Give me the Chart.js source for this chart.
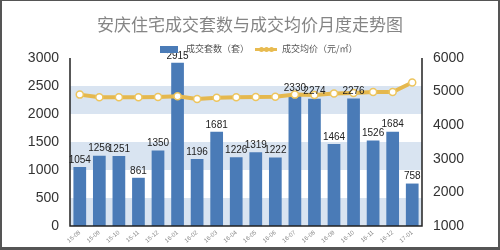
<!DOCTYPE html>
<html><head><meta charset="utf-8">
<script src="https://cdn.jsdelivr.net/npm/chart.js@4.4.1/dist/chart.umd.min.js"></script>
<style>
html,body{margin:0;padding:0;background:#fff;}
#wrap{position:relative;width:500px;height:250px;overflow:hidden;}
#frame{position:absolute;left:0;top:0;width:500px;height:250px;box-sizing:border-box;border:1px solid #555;border-left-width:2px;border-bottom-width:3px;border-right-width:2px;pointer-events:none;}
canvas{position:absolute;left:0;top:0;}
#title{position:absolute;left:0;top:13px;width:500px;text-align:center;font:17px "Noto Sans CJK SC";color:#858585;letter-spacing:0px;line-height:22px;}
#legend{position:absolute;top:43px;left:160px;font:9px "Noto Sans CJK SC";color:#555;line-height:12px;white-space:nowrap;}
.box{display:inline-block;width:18px;height:7px;background:#4a7bb7;vertical-align:middle;margin-right:8px;}
.ln{display:inline-block;position:relative;width:22px;height:3px;background:#e8bb50;vertical-align:middle;margin:0 5px 0 6px;}
.ln i{position:absolute;top:-1px;width:5px;height:5px;border-radius:50%;background:#e8bb50;}
</style></head>
<body><div id="wrap">
<canvas id="c" width="500" height="250"></canvas>
<div id="title">安庆住宅成交套数与成交均价月度走势图</div>
<div id="legend"><span class="box"></span>成交套数（套）<span class="ln"><i style="left:4px"></i><i style="left:9px"></i><i style="left:14px"></i></span>成交均价（元/㎡）</div>
<div id="frame"></div>
</div>
<script>
const categories = ["15-08","15-09","15-10","15-11","15-12","16-01","16-02","16-03","16-04","16-05","16-06","16-07","16-08","16-09","16-10","16-11","16-12","17-01"];
const units = [1054,1256,1251,861,1350,2915,1196,1681,1226,1319,1222,2330,2274,1464,2276,1526,1684,758];
const prices = [4910,4830,4830,4830,4840,4860,4780,4820,4830,4840,4850,4910,4900,4940,4960,4990,4990,5270];
const leftTicks = [0,500,1000,1500,2000,2500,3000];
const rightTicks = [1000,2000,3000,4000,5000,6000];
const bands = [[0,500],[1000,1500],[2000,2500]];

const bandPlugin = {
  id:'bands',
  beforeDatasetsDraw(chart){
    const {ctx, chartArea:a, scales:{y}} = chart;
    ctx.save();
    ctx.fillStyle = '#d9e4f1';
    bands.forEach(([lo,hi])=>{
      const t = y.getPixelForValue(hi), b = y.getPixelForValue(lo);
      ctx.fillRect(a.left, t, a.right-a.left, b-t);
    });
    ctx.restore();
  }
};
const labelPlugin = {
  id:'barLabels',
  afterDatasetsDraw(chart){
    const {ctx} = chart;
    const meta = chart.getDatasetMeta(1);
    ctx.save();
    ctx.font = '10px "Liberation Sans", Arial';
    ctx.fillStyle = '#222';
    ctx.textAlign = 'center';
    ctx.textBaseline = 'bottom';
    meta.data.forEach((el,i)=>{
      ctx.fillText(String(units[i]), el.x, el.y - 2);
    });
    ctx.restore();
  }
};
const axisPlugin = {
  id:'axisLines',
  afterDraw(chart){
    const {ctx, chartArea:a} = chart;
    ctx.save();
    ctx.strokeStyle = '#222';
    ctx.lineWidth = 1.5;
    ctx.beginPath();
    ctx.moveTo(a.left, a.top); ctx.lineTo(a.left, a.bottom); ctx.lineTo(a.right, a.bottom); ctx.lineTo(a.right, a.top);
    ctx.stroke();
    ctx.restore();
  }
};

new Chart(document.getElementById('c'), {
  data:{
    labels: categories,
    datasets:[
      {type:'line', label:'成交均价（元/㎡）', data:prices, yAxisID:'y2', order:0,
       borderColor:'#e5b84e', borderWidth:4, backgroundColor:'#fff',
       pointRadius:3.5, pointBorderWidth:1.5, pointBorderColor:'#edc55e', pointBackgroundColor:'#fff', tension:0},
      {type:'bar', label:'成交套数（套）', data:units, yAxisID:'y', order:1,
       backgroundColor:'#4a7bb7', barPercentage:0.65, categoryPercentage:1.0}
    ]
  },
  options:{
    responsive:false, animation:false,
    layout:{padding:{top:58,left:0,right:0,bottom:0}},
    plugins:{legend:{display:false}, title:{display:false}, tooltip:{enabled:false}},
    scales:{
      x:{grid:{display:false, drawTicks:false}, border:{display:false},
         ticks:{font:{size:6, family:'"Liberation Sans", Arial'}, color:'#888', minRotation:40, maxRotation:40, padding:3},
         afterFit(s){ s.height = 24; }},
      y:{position:'left', min:0, max:3000, afterBuildTicks(s){ s.ticks = leftTicks.map(v=>({value:v})); },
         grid:{display:false}, border:{display:false},
         ticks:{font:{size:14, family:'"Liberation Sans", Arial'}, color:'#333', padding:3, callback:v=>String(v)},
         afterFit(s){ s.width = 70; }},
      y2:{position:'right', min:1000, max:6000, afterBuildTicks(s){ s.ticks = rightTicks.map(v=>({value:v})); },
         grid:{display:false}, border:{display:false},
         ticks:{font:{size:14, family:'"Liberation Sans", Arial'}, color:'#333', padding:3, callback:v=>String(v)},
         afterFit(s){ s.width = 78; }}
    }
  },
  plugins:[bandPlugin, labelPlugin, axisPlugin]
});
</script>
</body></html>
